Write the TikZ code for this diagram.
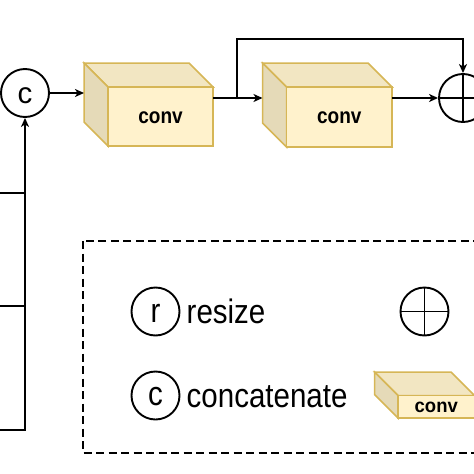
\documentclass[tikz,border=0pt]{standalone}
\usepackage{fontspec}
\setmainfont{Liberation Sans}
\usepackage{graphicx}
\usetikzlibrary{arrows.meta,calc}
\definecolor{cubeline}{HTML}{D6B656}
\definecolor{cubefront}{HTML}{FFF2CC}
\colorlet{cubetop}{cubefront!95!black}
\colorlet{cubeside}{cubefront!90!black}
\tikzset{
  conn/.style={line width=1.8pt, draw=black},
  arr/.style={-{Stealth[length=9pt,width=8pt,inset=2.5pt]}},
  opcirc/.style={circle, draw=black, line width=1.9pt, minimum size=48pt, inner sep=0pt,
                 font=\fontsize{29.5}{31}\selectfont},
  opline/.style={line width=1.9pt, draw=black},
  cubebound/.style={rectangle, draw=none, inner sep=0pt, outer sep=0pt},
  cubeface/.style={draw=cubeline, line width=1.5pt, line join=miter},
  convtext/.style={inner sep=0pt, text=black},
  legendtext/.style={inner sep=0pt, font=\fontsize{29.5}{31}\selectfont},
  legendbox/.style={draw=black, line width=1.9pt, dash pattern=on 8pt off 4.5pt},
}
% name, left, top, width, height, depth, vertical text scale, font size
\newcommand{\convcube}[8]{%
  \node[cubebound, minimum width=#4pt, minimum height=#5pt, anchor=north west] (#1) at (#2,#3) {};
  \filldraw[cubeface, fill=cubetop] (#2,#3) -- ({#2+#4-#6},#3) -- ({#2+#4},{#3+#6}) -- ({#2+#6},{#3+#6}) -- cycle;
  \filldraw[cubeface, fill=cubeside] (#2,#3) -- ({#2+#6},{#3+#6}) -- ({#2+#6},{#3+#5}) -- (#2,{#3+#5-#6}) -- cycle;
  \filldraw[cubeface, fill=cubefront] ({#2+#6},{#3+#6}) rectangle ({#2+#4},{#3+#5});
  \node[convtext, font=\bfseries\fontsize{#8}{#8}\selectfont] (#1-text) at ({#2+#6+(#4-#6)/2},{#3+#6+(#5-#6)/2+1}) {\scalebox{1}[#7]{conv}};
}
\newcommand{\lowered}[3]{\raisebox{-#1pt}[\height][\depth]{\scalebox{1}[#2]{#3}}}
\begin{document}
\begin{tikzpicture}[x=1pt,y=-1pt]
\useasboundingbox (0,0) rectangle (474,474);
\clip (0,0) rectangle (474,474);

% concatenate circle
\node[opcirc] (cc) at (25,93) {\lowered{3}{1}{c}};

% cubes
\convcube{cv1}{84}{63}{129}{83}{24}{1.15}{19}
\convcube{cv2}{262.5}{63}{129.5}{84}{24}{1.15}{19}

% add circle
\node[opcirc] (add) at (463,98) {};
\draw[opline] (add.north) -- (add.south);
\draw[opline] (add.west) -- (add.east);

% left inputs
\coordinate (l1) at (-5,193);
\coordinate (l2) at (-5,306);
\coordinate (l3) at (-5,430);
\draw[conn] (l1) -- (l1 -| cc);
\draw[conn] (l2) -- (l2 -| cc);
\draw[conn, arr] (l3) -- (l3 -| cc) -- (cc.south);

% main flow
\draw[conn, arr] (cc.east) -- (cc.east -| cv1.west);
\coordinate (o1) at (213,98);
\coordinate (br) at (237,98);
\coordinate (top) at (0,39);
\coordinate (o2) at (392,98);
\draw[conn, arr] (o1) -- (o1 -| cv2.west);
\draw[conn, arr] (br) -- (br |- top) -- (top -| add.north) -- (add.north);
\draw[conn, arr] (o2) -- (o2 -| add.west);

% legend
\draw[legendbox] (83,241) rectangle (520,453);
\node[opcirc] (lr) at (155.5,311.5) {\lowered{2}{1.15}{r}};
\node[legendtext, anchor=base west] (lrt) at (186.5,323) {\scalebox{1}[1.15]{resize}};
\node[opcirc] (lc) at (155.5,395.5) {\lowered{1.5}{1.15}{c}};
\node[legendtext, anchor=base west] (lct) at (186.5,407) {\scalebox{1}[1.15]{concatenate}};
\node[opcirc] (lp) at (424.5,311.5) {};
\draw[opline] (lp.north) -- (lp.south);
\draw[opline] (lp.west) -- (lp.east);
\convcube{cvl}{374.5}{372}{100}{46}{23.5}{1.05}{18.5}
\end{tikzpicture}
\end{document}
